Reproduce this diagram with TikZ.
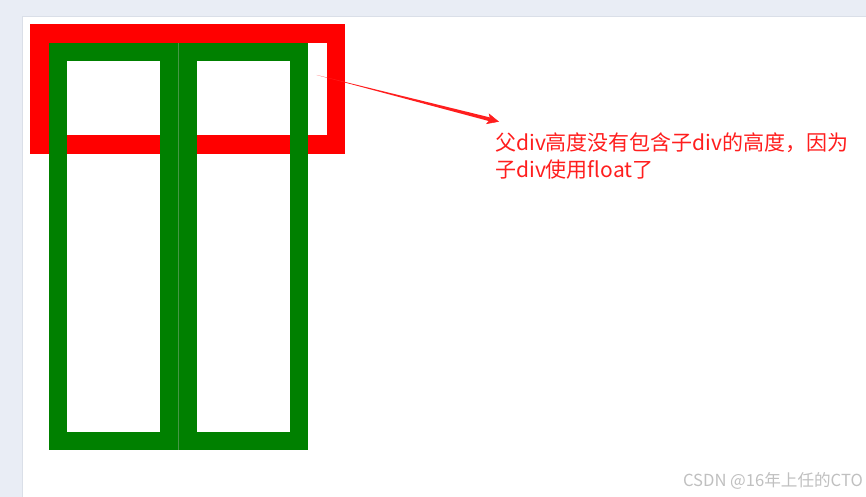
\documentclass[tikz,border=0pt]{standalone}
\usepackage{fontspec}
\setmainfont{Noto Sans CJK SC}
\usetikzlibrary{arrows.meta,calc}
\definecolor{pagebg}{RGB}{233,237,245}
\definecolor{pageedge}{RGB}{218,223,232}
\definecolor{boxred}{RGB}{255,0,0}
\definecolor{boxgreen}{RGB}{0,128,0}
\definecolor{seamgreen}{RGB}{70,150,70}
\definecolor{marktext}{RGB}{255,30,30}
\definecolor{wmgray}{RGB}{192,192,192}
\tikzset{
  redborder/.style={draw=boxred, line width=18.5pt},
  greenborder/.style={draw=boxgreen, line width=18.3pt},
  notetext/.style={text=marktext, font=\fontsize{21}{27}\selectfont, align=left, inner sep=0pt},
  wmtext/.style={text=wmgray, font=\fontsize{16.6}{16.6}\selectfont, inner sep=0pt}
}
\begin{document}
\begin{tikzpicture}[x=1pt,y=-1pt]
\useasboundingbox (0,0) rectangle (866,497);
\fill[pagebg] (0,0) rectangle (866,497);
\fill[white, draw=pageedge, line width=0.8pt] (22.5,16.5) rectangle (870,500);
% parent div (red)
\draw[redborder] (39.25,33.4) rectangle (335.9,144.5);
% floated children (green)
\draw[greenborder] (58.15,52.15) rectangle (169.15,441.15);
\draw[greenborder] (187.45,52.15) rectangle (299.15,441.15);
\draw[seamgreen, line width=0.6pt] (178.3,43) -- (178.3,450.3);
% arrow
\coordinate (tail) at (316.7,75);
\coordinate (tip) at (499,121.7);
\coordinate (neck) at ($(tip)!9pt!(tail)$);
\fill[marktext] (tail) -- ($(neck)!1.9pt!90:(tail)$) -- ($(neck)!1.9pt!-90:(tail)$) -- cycle;
\draw[marktext, line width=0.5pt, -{Stealth[length=12pt,width=11pt,inset=3pt]}] (neck) -- (tip);
% note
\node[notetext, anchor=west] (note) at (495,156.5) {父div高度没有包含子div的高度，因为\\子div使用float了};
% watermark
\node[wmtext, anchor=east] (wm) at (863,481) {CSDN @16年上任的CTO};
\end{tikzpicture}
\end{document}
